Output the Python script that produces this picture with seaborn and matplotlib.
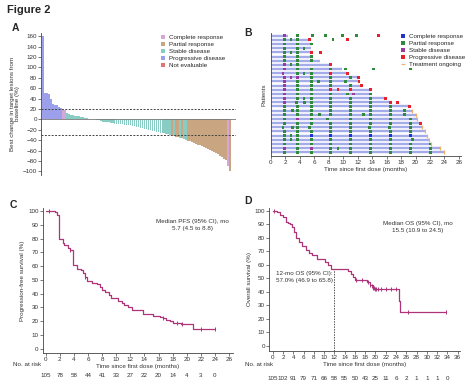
import matplotlib
matplotlib.use("Agg")
import matplotlib.pyplot as plt
from matplotlib.lines import Line2D
from matplotlib.transforms import blended_transform_factory
import pandas as pd
import seaborn as sns

# ---------------- data ----------------
# panel A: waterfall of best change in target lesions
resp_labels = ["Complete response", "Partial response", "Stable disease",
               "Progressive disease", "Not evaluable"]
resp_codes = ["CR", "PR", "SD", "PD", "NE"]
wf_colors = ["#d7a6d9", "#c9a582", "#88ccc4", "#9c9fe9", "#e57373"]

wf_change = [160, 51, 50, 49, 40, 29, 28, 27, 23, 21,
             20, 18,
             12, 10, 9, 8, 7, 7, 6, 5, 4, 3, 2, 1,
             0.5, 0, 0, -1, -1,
             -4, -5, -5, -6, -6, -7, -7, -8, -8, -8,
             -9, -9, -10, -10, -11, -11, -12, -13, -14, -15,
             -16, -17, -18, -19, -20, -21, -22, -23, -24, -25,
             -26, -27, -27, -28, -29, -30,
             -31, -32, -33, -34, -35, -36, -38, -39, -41,
             -42, -44, -46, -48, -49, -50, -52, -54, -55, -57,
             -59, -61, -63, -65, -67, -70, -73, -76, -78,
             -90, -100]
wf_resp = (["PD"] * 10 + ["CR"] * 2 + ["SD"] * 12 + ["SD"] * 5 + ["SD"] * 36
           + ["PR", "SD", "PR", "PR", "SD", "PR", "SD", "SD", "PR"]
           + ["PR"] * 19 + ["CR", "PR"])

# panel B: swimmer plot, one entry per patient (top to bottom)
sw_end = [2.4, 5.4, 5.7, 5.6, 5.8, 5.9, 6.8, 8.3, 9.8, 10.6, 12.1, 12.2, 12.6,
          13.8, 14.0, 15.8, 16.8, 19.2, 19.5, 20.1, 20.2, 20.7, 20.9, 21.3,
          21.6, 21.9, 22.1, 23.4, 24.0]
sw_ongoing = [0] * 18 + [1, 1, 1, 0, 1, 1, 1, 1, 1, 1, 1]
sw_events = [
    "S1.9 P3.7 P5.8 P7.6 P9.9 P11.8 D14.9",
    "P1.9 P2.8 P3.7 D5.3 P8.6 D10.6",
    "P1.9 P3.7 P5.6",
    "P1.9 P3.7 P4.6",
    "P1.9 P2.8 P3.7 D5.6 D6.9",
    "P1.9 P3.7 P5.6",
    "P1.9 P3.7 P5.6",
    "S1.9 P2.8 P3.7 D8.2",
    "S1.9 P3.7 P5.6 P8.3 P10.3 P14.2 P19.3",
    "S1.7 P3.7 P4.6 P5.6 D8.2 D10.6",
    "S1.9 S2.8 S3.7 P5.6 P8.3 P11.0 D12.1",
    "S1.9 P3.7 P5.6 P6.6 P8.3 P10.3 D12.2",
    "S1.9 P3.7 P5.6 P8.3 P11.0 D12.5",
    "S1.9 P3.7 P5.6 D8.3 D9.3 D11.0 D13.8",
    "S1.9 P3.7 P5.6 P8.3 P10.6 S11.4 P13.8",
    "S1.9 P3.7 P4.6 P5.6 P8.3 P11.0 P13.8 D15.8",
    "S1.9 P3.6 P4.7 P5.6 P8.3 P11.0 P13.8 D16.6 D17.5",
    "P1.9 P3.7 P5.6 P8.3 P11.0 P13.8 P16.6 D19.2",
    "P1.9 P3.0 P3.7 P5.6 P8.3 P11.0 P13.8 P16.6 P18.5",
    "P1.9 P3.7 P5.6 P6.7 P8.3 P11.0 P12.8 P13.8 P16.6 P18.5",
    "P1.9 S3.7 P5.6 P7.9 P11.0 P13.8 P16.6 P19.3",
    "P1.9 P3.7 P5.6 P8.3 P11.0 P13.8 P16.6 P19.3 D20.7",
    "P1.7 P3.0 P3.7 P5.4 P8.3 P11.0 P13.6 P16.4 P19.3",
    "P1.9 P3.7 P5.6 P8.3 P11.0 P13.8 P16.6 P19.3",
    "P1.9 P2.8 P3.7 C5.6 C8.3 C11.0 C13.8 C16.6 C19.3",
    "P1.9 P2.8 P3.7 P5.6 P8.3 P11.0 P13.8 P16.6 P19.6",
    "P1.9 P3.7 P5.6 P8.3 P11.0 P13.8 P16.6 P19.3 P22.1",
    "S1.9 P3.7 S5.6 P8.3 P9.3 P11.0 P13.8 P16.6 P19.3 P22.1",
    "P1.9 P3.7 P5.6 P8.3 P11.0 P13.8 P16.6 P19.3 P22.1",
]
sw_labels = ["Complete response", "Partial response", "Stable disease",
             "Progressive disease", "Treatment ongoing"]
sw_kinds = {"C": "Complete response", "P": "Partial response",
            "S": "Stable disease", "D": "Progressive disease"}
sw_colors = ["#2233cc", "#2f8a3c", "#9a3a9e", "#e8202a", "#f4b06a"]

# panel C: progression-free survival
pfs_t = [0, 1.3, 1.6, 1.9, 2.5, 2.6, 3.2, 3.5, 3.8, 4.5, 5.0, 5.3, 5.6, 5.9,
         6.5, 7.3, 7.7, 8.0, 8.4, 9.0, 9.3, 10.3, 10.8, 11.1, 11.7, 12.3,
         13.8, 15.2, 16.2, 16.7, 17.1, 17.6, 18.0, 19.2, 20.9, 24.0]
pfs_s = [100, 99, 97, 80, 77, 75, 73, 72, 61, 58, 57, 55, 52, 49,
         48, 47, 45, 43, 41, 39, 37, 35, 33, 32, 30, 28,
         25, 24, 23, 22, 21, 20, 19, 18, 14, 14]
pfs_cens_t = [0.4, 3.5, 5.6, 16.6, 18.6, 19.3, 22.1, 24.0]
pfs_cens_s = [100, 72, 52, 22, 19, 18, 14, 14]
pfs_risk = [105, 78, 58, 44, 41, 33, 27, 22, 20, 14, 4, 3, 0]

# panel D: overall survival
os_t = [0, 0.8, 1.4, 2.1, 2.6, 3.0, 3.4, 3.8, 4.2, 4.6, 5.1, 5.7, 6.4, 7.1,
        7.7, 8.6, 10.2, 10.7, 11.3, 14.6, 15.2, 15.6, 16.0, 18.3, 18.9,
        19.6, 20.2, 24.5, 24.7, 25.3, 33.8]
os_s = [100, 99, 97, 95, 92, 91, 90, 88, 84, 80, 77, 74, 71, 69,
        67, 64, 62, 60, 57, 55, 53, 51, 49, 47, 45,
        43, 42, 33, 25, 25, 25]
os_cens_t = [0.3, 16.3, 17.3, 18.5, 19.0, 19.3, 19.5, 19.7, 19.9, 20.1, 20.4,
             21.0, 22.0, 23.0, 24.0, 26.4, 33.8]
os_cens_s = [100, 49, 49, 47, 45, 44, 43, 43, 42, 42, 42,
             42, 42, 42, 42, 25, 25]
os_risk = [105, 102, 91, 79, 71, 66, 58, 55, 50, 43, 25, 11, 6, 2, 1, 1, 1, 0]

km_color = "#ad3479"
fs = 4.5

# ---------------- style ----------------
sns.set_style("ticks")
plt.rcParams["font.family"] = ["Liberation Sans", "DejaVu Sans"]
plt.rcParams.update({
    "axes.edgecolor": "#444444", "axes.linewidth": 0.6,
    "xtick.color": "#444444", "ytick.color": "#444444",
    "xtick.labelcolor": "#333333", "ytick.labelcolor": "#333333",
    "xtick.major.size": 2, "ytick.major.size": 2,
    "xtick.major.width": 0.5, "ytick.major.width": 0.5,
    "xtick.major.pad": 1, "ytick.major.pad": 1,
    "xtick.labelsize": fs, "ytick.labelsize": fs,
    "axes.labelsize": fs, "axes.labelcolor": "#333333",
})

W, H = 474, 386
fig = plt.figure(figsize=(W / 100, H / 100), dpi=100)


def px_axes(l, t, r, b):
    return fig.add_axes([l / W, 1 - b / H, (r - l) / W, (b - t) / H])


def square_handles(colors):
    return [Line2D([], [], marker="s", ls="", color=c, markersize=2.4, mew=0)
            for c in colors]


fig.text(7 / W, 1 - 10 / H, "Figure 2", fontsize=8, fontweight="bold", va="center")
for lab, x, y in [("A", 12, 28), ("B", 244, 33), ("C", 10, 205), ("D", 244, 201)]:
    fig.text(x / W, 1 - y / H, lab, fontsize=7.5, fontweight="bold", va="center")

# ---------------- A ----------------
axA = px_axes(41, 33, 236, 175)
code_to_label = dict(zip(resp_codes, resp_labels))
df_wf = pd.DataFrame({"pt": range(len(wf_change)), "change": wf_change,
                      "resp": [code_to_label[c] for c in wf_resp]})
sns.barplot(data=df_wf, x="pt", y="change", hue="resp", hue_order=resp_labels,
            palette=wf_colors, dodge=False, width=0.88, saturation=1,
            linewidth=0, errorbar=None, legend=False, ax=axA)
axA.axhline(0, color="#777777", lw=0.6)
for yv in (20, -30):
    axA.axhline(yv, color="#444444", lw=0.7, ls=(0, (2, 1.5)))
axA.set_xlim(-1.0, 97.0)
axA.set_ylim(-107, 166)
axA.set_yticks(range(-100, 161, 20))
axA.set_xticks([])
axA.set_xlabel("")
axA.set_ylabel("Best change in target lesions from\nbaseline (%)", labelpad=2,
               linespacing=1.1)
sns.despine(ax=axA, bottom=True)
axA.legend(square_handles(wf_colors), resp_labels, loc="upper left",
           bbox_to_anchor=(161 / W, 1 - 35 / H), bbox_transform=fig.transFigure,
           frameon=False, fontsize=fs, handlelength=0.5, handletextpad=0.8,
           labelspacing=0.25, borderpad=0, borderaxespad=0)

# ---------------- B ----------------
axB = px_axes(270.7, 33, 461, 156)
rows = list(range(1, len(sw_end) + 1))
axB.hlines(rows, 0, sw_end, color="#a3abe8", lw=1.7)
ev_rows, ev_t, ev_kind = [], [], []
for r, s in zip(rows, sw_events):
    for tok in s.split():
        ev_rows.append(r)
        ev_t.append(float(tok[1:]))
        ev_kind.append(sw_kinds[tok[0]])
df_ev = pd.DataFrame({"row": ev_rows, "t": ev_t, "kind": ev_kind})
sns.scatterplot(data=df_ev, x="t", y="row", hue="kind", hue_order=sw_labels[:4],
                palette=sw_colors[:4], marker="s", s=4.2, linewidth=0,
                legend=False, zorder=3, ax=axB)
on_rows = [r for r, o in zip(rows, sw_ongoing) if o]
on_end = [e for e, o in zip(sw_end, sw_ongoing) if o]
sns.scatterplot(x=on_end, y=on_rows, marker="|", color=sw_colors[4], s=7,
                linewidth=0.9, zorder=3, ax=axB)
axB.set_xlim(0, 26.28)
axB.set_ylim(29.9, 0.35)
axB.set_xticks(range(0, 27, 2))
axB.set_yticks([])
axB.set_xlabel("Time since first dose (months)", labelpad=1.5)
axB.set_ylabel("Patients", labelpad=3)
sns.despine(ax=axB)
axB.legend(square_handles(sw_colors[:4]) +
           [Line2D([], [], marker="_", ls="", color=sw_colors[4],
                   markersize=2.4, mew=0.8)],
           sw_labels, loc="upper left",
           bbox_to_anchor=(401 / W, 1 - 34 / H), bbox_transform=fig.transFigure,
           frameon=False, fontsize=fs, handlelength=0.5, handletextpad=0.8,
           labelspacing=0.25, borderpad=0, borderaxespad=0)


# ---------------- C & D ----------------
def km_panel(ax, t, s, ct, cs, xmax, risk, risk_y):
    sns.lineplot(x=t, y=s, drawstyle="steps-post", color=km_color, lw=0.9,
                 estimator=None, ax=ax)
    sns.scatterplot(x=ct, y=cs, marker="|", color=km_color, s=6,
                    linewidth=0.7, ax=ax)
    ax.set_xticks(range(0, xmax + 1, 2))
    ax.set_yticks(range(0, 101, 10))
    ax.set_xlabel("Time since first dose (months)", labelpad=1.2)
    sns.despine(ax=ax)
    tr = blended_transform_factory(ax.transData, fig.transFigure)
    for i, n in enumerate(risk):
        ax.text(2 * i, 1 - risk_y / H, str(n), transform=tr, ha="center",
                va="center", fontsize=fs, color="#333333")


axC = px_axes(42.7, 208, 233, 353)
km_panel(axC, pfs_t, pfs_s, pfs_cens_t, pfs_cens_s, 26, pfs_risk, 375.7)
axC.set_xlim(-0.43, 26.57)
axC.set_ylim(-3.1, 102.2)
axC.set_ylabel("Progression-free survival (%)", labelpad=2)
axC.text(20.8, 90, "Median PFS (95% CI), mo\n5.7 (4.5 to 8.8)", ha="center",
         va="center", fontsize=fs, linespacing=1.4, color="#333333")
fig.text(13 / W, 1 - 364 / H, "No. at risk", fontsize=fs, va="center",
         color="#333333")

axD = px_axes(269, 208.3, 460, 350.7)
km_panel(axD, os_t, os_s, os_cens_t, os_cens_s, 36, os_risk, 379)
axD.set_xlim(-0.72, 36.45)
axD.set_ylim(-3.7, 101.8)
axD.set_ylabel("Overall survival (%)", labelpad=2)
axD.vlines(12, -3.7, 57, color="#555555", lw=0.7, ls=(0, (1.5, 1.2)))
axD.text(11.7, 51, "12-mo OS (95% CI):\n57.0% (46.9 to 65.8)", ha="right",
         va="center", fontsize=fs, linespacing=1.4, color="#333333")
axD.text(28.3, 88, "Median OS (95% CI), mo\n15.5 (10.9 to 24.5)", ha="center",
         va="center", fontsize=fs, linespacing=1.4, color="#333333")
fig.text(245 / W, 1 - 364 / H, "No. at risk", fontsize=fs, va="center",
         color="#333333")

fig.savefig("out.png", dpi=100)
